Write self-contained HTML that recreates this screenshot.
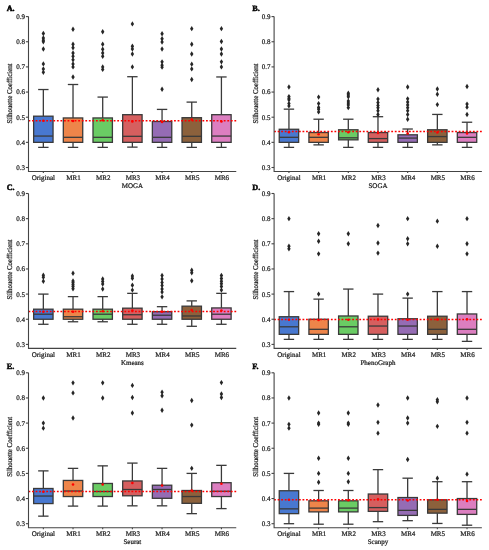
<!DOCTYPE html>
<html><head><meta charset="utf-8"><style>
html,body{margin:0;padding:0;background:#fff;}
body{width:489px;height:550px;overflow:hidden;}
svg{display:block;will-change:transform;}
text{text-rendering:geometricPrecision;font-family:"Liberation Serif", serif;fill:#1a1a1a;stroke:#1a1a1a;stroke-width:0.22px;}
.lt{font-size:8.2px;font-weight:bold;fill:#000;stroke:#000;stroke-width:0.45px;}
.yl{font-size:7px;text-anchor:middle;}
.tl{font-size:7px;text-anchor:end;}
.cl{font-size:7px;text-anchor:middle;}
.ax{stroke:#444;stroke-width:1.1;}
.bl{stroke:#3a3a3a;stroke-width:1.3;}
.ou{fill:#262626;}
.ml{stroke:#ff0000;stroke-width:1.4;stroke-dasharray:1.8 1.75;}
</style></head><body>
<svg width="489" height="550" viewBox="0 0 489 550">
<text x="6.7" y="11" class="lt">A.</text>
<text transform="translate(11.9,93.5) rotate(-90) scale(0.975,1.05)" class="yl">Silhouette Coefficient</text>
<line x1="25.9" y1="167.5" x2="28.5" y2="167.5" class="ax"/>
<text x="24.9" y="169.9" class="tl">0.3</text>
<line x1="25.9" y1="142.35" x2="28.5" y2="142.35" class="ax"/>
<text x="24.9" y="144.75" class="tl">0.4</text>
<line x1="25.9" y1="117.2" x2="28.5" y2="117.2" class="ax"/>
<text x="24.9" y="119.6" class="tl">0.5</text>
<line x1="25.9" y1="92.05" x2="28.5" y2="92.05" class="ax"/>
<text x="24.9" y="94.45" class="tl">0.6</text>
<line x1="25.9" y1="66.9" x2="28.5" y2="66.9" class="ax"/>
<text x="24.9" y="69.3" class="tl">0.7</text>
<line x1="25.9" y1="41.75" x2="28.5" y2="41.75" class="ax"/>
<text x="24.9" y="44.15" class="tl">0.8</text>
<line x1="25.9" y1="16.6" x2="28.5" y2="16.6" class="ax"/>
<text x="24.9" y="19" class="tl">0.9</text>
<line x1="43.34" y1="89.53" x2="43.34" y2="116.19" class="bl"/>
<line x1="43.34" y1="142.35" x2="43.34" y2="147.38" class="bl"/>
<line x1="38.14" y1="89.53" x2="48.54" y2="89.53" class="bl"/>
<line x1="38.14" y1="147.38" x2="48.54" y2="147.38" class="bl"/>
<rect x="33.64" y="116.19" width="19.4" height="26.16" fill="#4878d0" class="bl"/>
<line x1="33.64" y1="136.06" x2="53.04" y2="136.06" class="bl"/>
<path d="M43.34 30.75L45.04 33.45L43.34 36.15L41.64 33.45Z" class="ou"/>
<path d="M43.34 35.28L45.04 37.98L43.34 40.68L41.64 37.98Z" class="ou"/>
<path d="M43.34 37.54L45.04 40.24L43.34 42.94L41.64 40.24Z" class="ou"/>
<path d="M43.34 39.05L45.04 41.75L43.34 44.45L41.64 41.75Z" class="ou"/>
<path d="M43.34 46.34L45.04 49.04L43.34 51.74L41.64 49.04Z" class="ou"/>
<path d="M43.34 61.18L45.04 63.88L43.34 66.58L41.64 63.88Z" class="ou"/>
<path d="M43.34 66.21L45.04 68.91L43.34 71.61L41.64 68.91Z" class="ou"/>
<path d="M43.34 69.48L45.04 72.18L43.34 74.88L41.64 72.18Z" class="ou"/>
<line x1="43.34" y1="171.5" x2="43.34" y2="173.1" class="ax"/>
<text x="43.34" y="179.8" class="cl">Original</text>
<line x1="73.02" y1="84.5" x2="73.02" y2="117.95" class="bl"/>
<line x1="73.02" y1="142.35" x2="73.02" y2="147.38" class="bl"/>
<line x1="67.82" y1="84.5" x2="78.22" y2="84.5" class="bl"/>
<line x1="67.82" y1="147.38" x2="78.22" y2="147.38" class="bl"/>
<rect x="63.32" y="117.95" width="19.4" height="24.4" fill="#ee854a" class="bl"/>
<line x1="63.32" y1="137.32" x2="82.72" y2="137.32" class="bl"/>
<path d="M73.02 26.48L74.72 29.18L73.02 31.88L71.32 29.18Z" class="ou"/>
<path d="M73.02 41.56L74.72 44.27L73.02 46.97L71.32 44.27Z" class="ou"/>
<path d="M73.02 45.09L74.72 47.79L73.02 50.49L71.32 47.79Z" class="ou"/>
<path d="M73.02 50.37L74.72 53.07L73.02 55.77L71.32 53.07Z" class="ou"/>
<path d="M73.02 53.64L74.72 56.34L73.02 59.04L71.32 56.34Z" class="ou"/>
<path d="M73.02 57.16L74.72 59.86L73.02 62.56L71.32 59.86Z" class="ou"/>
<path d="M73.02 61.18L74.72 63.88L73.02 66.58L71.32 63.88Z" class="ou"/>
<path d="M73.02 64.2L74.72 66.9L73.02 69.6L71.32 66.9Z" class="ou"/>
<path d="M73.02 74.26L74.72 76.96L73.02 79.66L71.32 76.96Z" class="ou"/>
<line x1="73.02" y1="171.5" x2="73.02" y2="173.1" class="ax"/>
<text x="73.52" y="179.8" class="cl">MR1</text>
<line x1="102.7" y1="97.08" x2="102.7" y2="117.95" class="bl"/>
<line x1="102.7" y1="142.35" x2="102.7" y2="147.38" class="bl"/>
<line x1="97.5" y1="97.08" x2="107.9" y2="97.08" class="bl"/>
<line x1="97.5" y1="147.38" x2="107.9" y2="147.38" class="bl"/>
<rect x="93" y="117.95" width="19.4" height="24.4" fill="#6acc64" class="bl"/>
<line x1="93" y1="137.32" x2="112.4" y2="137.32" class="bl"/>
<path d="M102.7 28.99L104.4 31.69L102.7 34.39L101 31.69Z" class="ou"/>
<path d="M102.7 41.56L104.4 44.27L102.7 46.97L101 44.27Z" class="ou"/>
<path d="M102.7 46.59L104.4 49.3L102.7 52L101 49.3Z" class="ou"/>
<path d="M102.7 50.37L104.4 53.07L102.7 55.77L101 53.07Z" class="ou"/>
<path d="M102.7 53.64L104.4 56.34L102.7 59.04L101 56.34Z" class="ou"/>
<path d="M102.7 64.2L104.4 66.9L102.7 69.6L101 66.9Z" class="ou"/>
<path d="M102.7 66.72L104.4 69.42L102.7 72.12L101 69.42Z" class="ou"/>
<line x1="102.7" y1="171.5" x2="102.7" y2="173.1" class="ax"/>
<text x="103.2" y="179.8" class="cl">MR2</text>
<line x1="132.38" y1="76.71" x2="132.38" y2="114.69" class="bl"/>
<line x1="132.38" y1="142.35" x2="132.38" y2="147.13" class="bl"/>
<line x1="127.18" y1="76.71" x2="137.58" y2="76.71" class="bl"/>
<line x1="127.18" y1="147.13" x2="137.58" y2="147.13" class="bl"/>
<rect x="122.68" y="114.69" width="19.4" height="27.66" fill="#d65f5f" class="bl"/>
<line x1="122.68" y1="136.31" x2="142.08" y2="136.31" class="bl"/>
<path d="M132.38 21.19L134.08 23.89L132.38 26.59L130.68 23.89Z" class="ou"/>
<path d="M132.38 43.58L134.08 46.28L132.38 48.98L130.68 46.28Z" class="ou"/>
<path d="M132.38 46.34L134.08 49.04L132.38 51.74L130.68 49.04Z" class="ou"/>
<path d="M132.38 51.37L134.08 54.07L132.38 56.77L130.68 54.07Z" class="ou"/>
<path d="M132.38 64.2L134.08 66.9L132.38 69.6L130.68 66.9Z" class="ou"/>
<line x1="132.38" y1="171.5" x2="132.38" y2="173.1" class="ax"/>
<text x="132.88" y="179.8" class="cl">MR3</text>
<line x1="162.06" y1="109.4" x2="162.06" y2="121.48" class="bl"/>
<line x1="162.06" y1="142.35" x2="162.06" y2="147.38" class="bl"/>
<line x1="156.86" y1="109.4" x2="167.26" y2="109.4" class="bl"/>
<line x1="156.86" y1="147.38" x2="167.26" y2="147.38" class="bl"/>
<rect x="152.36" y="121.48" width="19.4" height="20.87" fill="#956cb4" class="bl"/>
<line x1="152.36" y1="137.32" x2="171.76" y2="137.32" class="bl"/>
<path d="M162.06 31L163.76 33.7L162.06 36.4L160.36 33.7Z" class="ou"/>
<path d="M162.06 36.03L163.76 38.73L162.06 41.43L160.36 38.73Z" class="ou"/>
<path d="M162.06 39.3L163.76 42L162.06 44.7L160.36 42Z" class="ou"/>
<path d="M162.06 46.34L163.76 49.04L162.06 51.74L160.36 49.04Z" class="ou"/>
<path d="M162.06 59.17L163.76 61.87L162.06 64.57L160.36 61.87Z" class="ou"/>
<path d="M162.06 62.44L163.76 65.14L162.06 67.84L160.36 65.14Z" class="ou"/>
<path d="M162.06 64.45L163.76 67.15L162.06 69.85L160.36 67.15Z" class="ou"/>
<path d="M162.06 86.58L163.76 89.28L162.06 91.98L160.36 89.28Z" class="ou"/>
<line x1="162.06" y1="171.5" x2="162.06" y2="173.1" class="ax"/>
<text x="162.56" y="179.8" class="cl">MR4</text>
<line x1="191.74" y1="102.11" x2="191.74" y2="117.7" class="bl"/>
<line x1="191.74" y1="142.35" x2="191.74" y2="147.38" class="bl"/>
<line x1="186.54" y1="102.11" x2="196.94" y2="102.11" class="bl"/>
<line x1="186.54" y1="147.38" x2="196.94" y2="147.38" class="bl"/>
<rect x="182.04" y="117.7" width="19.4" height="24.65" fill="#8c613c" class="bl"/>
<line x1="182.04" y1="136.31" x2="201.44" y2="136.31" class="bl"/>
<path d="M191.74 25.97L193.44 28.67L191.74 31.37L190.04 28.67Z" class="ou"/>
<path d="M191.74 41.56L193.44 44.27L191.74 46.97L190.04 44.27Z" class="ou"/>
<path d="M191.74 51.37L193.44 54.07L191.74 56.77L190.04 54.07Z" class="ou"/>
<path d="M191.74 61.43L193.44 64.13L191.74 66.83L190.04 64.13Z" class="ou"/>
<path d="M191.74 66.21L193.44 68.91L191.74 71.61L190.04 68.91Z" class="ou"/>
<path d="M191.74 76.77L193.44 79.47L191.74 82.17L190.04 79.47Z" class="ou"/>
<line x1="191.74" y1="171.5" x2="191.74" y2="173.1" class="ax"/>
<text x="192.24" y="179.8" class="cl">MR5</text>
<line x1="221.42" y1="76.96" x2="221.42" y2="114.69" class="bl"/>
<line x1="221.42" y1="142.35" x2="221.42" y2="147.38" class="bl"/>
<line x1="216.22" y1="76.96" x2="226.62" y2="76.96" class="bl"/>
<line x1="216.22" y1="147.38" x2="226.62" y2="147.38" class="bl"/>
<rect x="211.72" y="114.69" width="19.4" height="27.66" fill="#dc7ec0" class="bl"/>
<line x1="211.72" y1="136.06" x2="231.12" y2="136.06" class="bl"/>
<path d="M221.42 25.97L223.12 28.67L221.42 31.37L219.72 28.67Z" class="ou"/>
<path d="M221.42 38.8L223.12 41.5L221.42 44.2L219.72 41.5Z" class="ou"/>
<path d="M221.42 46.34L223.12 49.04L221.42 51.74L219.72 49.04Z" class="ou"/>
<path d="M221.42 51.37L223.12 54.07L221.42 56.77L219.72 54.07Z" class="ou"/>
<path d="M221.42 59.17L223.12 61.87L221.42 64.57L219.72 61.87Z" class="ou"/>
<path d="M221.42 64.2L223.12 66.9L221.42 69.6L219.72 66.9Z" class="ou"/>
<line x1="221.42" y1="171.5" x2="221.42" y2="173.1" class="ax"/>
<text x="221.92" y="179.8" class="cl">MR6</text>
<line x1="28.5" y1="120.72" x2="236.26" y2="120.72" class="ml"/>
<circle cx="43.34" cy="120.72" r="1.3" fill="#ff0000"/>
<circle cx="73.02" cy="120.97" r="1.3" fill="#ff0000"/>
<circle cx="102.7" cy="120.22" r="1.3" fill="#ff0000"/>
<circle cx="132.38" cy="121.48" r="1.3" fill="#ff0000"/>
<circle cx="162.06" cy="121.98" r="1.3" fill="#ff0000"/>
<circle cx="191.74" cy="119.46" r="1.3" fill="#ff0000"/>
<circle cx="221.42" cy="121.48" r="1.3" fill="#ff0000"/>
<path d="M28.5 16.6V171.5H236.26" class="ax" fill="none"/>
<text x="132.38" y="187.9" class="cl">MOGA</text>
<text x="252.3" y="11" class="lt">B.</text>
<text transform="translate(257.5,93.5) rotate(-90) scale(0.975,1.05)" class="yl">Silhouette Coefficient</text>
<line x1="271.5" y1="167.5" x2="274.1" y2="167.5" class="ax"/>
<text x="270.5" y="169.9" class="tl">0.3</text>
<line x1="271.5" y1="142.35" x2="274.1" y2="142.35" class="ax"/>
<text x="270.5" y="144.75" class="tl">0.4</text>
<line x1="271.5" y1="117.2" x2="274.1" y2="117.2" class="ax"/>
<text x="270.5" y="119.6" class="tl">0.5</text>
<line x1="271.5" y1="92.05" x2="274.1" y2="92.05" class="ax"/>
<text x="270.5" y="94.45" class="tl">0.6</text>
<line x1="271.5" y1="66.9" x2="274.1" y2="66.9" class="ax"/>
<text x="270.5" y="69.3" class="tl">0.7</text>
<line x1="271.5" y1="41.75" x2="274.1" y2="41.75" class="ax"/>
<text x="270.5" y="44.15" class="tl">0.8</text>
<line x1="271.5" y1="16.6" x2="274.1" y2="16.6" class="ax"/>
<text x="270.5" y="19" class="tl">0.9</text>
<line x1="288.94" y1="109.15" x2="288.94" y2="129.27" class="bl"/>
<line x1="288.94" y1="142.35" x2="288.94" y2="147.38" class="bl"/>
<line x1="283.74" y1="109.15" x2="294.14" y2="109.15" class="bl"/>
<line x1="283.74" y1="147.38" x2="294.14" y2="147.38" class="bl"/>
<rect x="279.24" y="129.27" width="19.4" height="13.08" fill="#4878d0" class="bl"/>
<line x1="279.24" y1="137.32" x2="298.64" y2="137.32" class="bl"/>
<path d="M288.94 84.32L290.64 87.02L288.94 89.72L287.24 87.02Z" class="ou"/>
<path d="M288.94 93.88L290.64 96.58L288.94 99.28L287.24 96.58Z" class="ou"/>
<path d="M288.94 95.64L290.64 98.34L288.94 101.04L287.24 98.34Z" class="ou"/>
<path d="M288.94 97.15L290.64 99.85L288.94 102.55L287.24 99.85Z" class="ou"/>
<path d="M288.94 100.92L290.64 103.62L288.94 106.32L287.24 103.62Z" class="ou"/>
<path d="M288.94 103.18L290.64 105.88L288.94 108.58L287.24 105.88Z" class="ou"/>
<line x1="288.94" y1="171.5" x2="288.94" y2="173.1" class="ax"/>
<text x="288.94" y="179.8" class="cl">Original</text>
<line x1="318.62" y1="119.21" x2="318.62" y2="132.54" class="bl"/>
<line x1="318.62" y1="142.35" x2="318.62" y2="144.87" class="bl"/>
<line x1="313.42" y1="119.21" x2="323.82" y2="119.21" class="bl"/>
<line x1="313.42" y1="144.87" x2="323.82" y2="144.87" class="bl"/>
<rect x="308.92" y="132.54" width="19.4" height="9.81" fill="#ee854a" class="bl"/>
<line x1="308.92" y1="137.32" x2="328.32" y2="137.32" class="bl"/>
<path d="M318.62 94.38L320.32 97.08L318.62 99.78L316.92 97.08Z" class="ou"/>
<path d="M318.62 100.92L320.32 103.62L318.62 106.32L316.92 103.62Z" class="ou"/>
<path d="M318.62 104.69L320.32 107.39L318.62 110.09L316.92 107.39Z" class="ou"/>
<path d="M318.62 106.45L320.32 109.15L318.62 111.85L316.92 109.15Z" class="ou"/>
<path d="M318.62 109.22L320.32 111.92L318.62 114.62L316.92 111.92Z" class="ou"/>
<line x1="318.62" y1="171.5" x2="318.62" y2="173.1" class="ax"/>
<text x="319.12" y="179.8" class="cl">MR1</text>
<line x1="348.3" y1="119.21" x2="348.3" y2="129.78" class="bl"/>
<line x1="348.3" y1="139.84" x2="348.3" y2="147.38" class="bl"/>
<line x1="343.1" y1="119.21" x2="353.5" y2="119.21" class="bl"/>
<line x1="343.1" y1="147.38" x2="353.5" y2="147.38" class="bl"/>
<rect x="338.6" y="129.78" width="19.4" height="10.06" fill="#6acc64" class="bl"/>
<line x1="338.6" y1="137.82" x2="358" y2="137.82" class="bl"/>
<path d="M348.3 90.61L350 93.31L348.3 96.01L346.6 93.31Z" class="ou"/>
<path d="M348.3 92.37L350 95.07L348.3 97.77L346.6 95.07Z" class="ou"/>
<path d="M348.3 94.13L350 96.83L348.3 99.53L346.6 96.83Z" class="ou"/>
<path d="M348.3 98.4L350 101.1L348.3 103.8L346.6 101.1Z" class="ou"/>
<path d="M348.3 100.42L350 103.12L348.3 105.82L346.6 103.12Z" class="ou"/>
<path d="M348.3 102.18L350 104.88L348.3 107.58L346.6 104.88Z" class="ou"/>
<path d="M348.3 104.94L350 107.64L348.3 110.34L346.6 107.64Z" class="ou"/>
<line x1="348.3" y1="171.5" x2="348.3" y2="173.1" class="ax"/>
<text x="348.8" y="179.8" class="cl">MR2</text>
<line x1="377.98" y1="116.7" x2="377.98" y2="132.54" class="bl"/>
<line x1="377.98" y1="142.35" x2="377.98" y2="147.38" class="bl"/>
<line x1="372.78" y1="116.7" x2="383.18" y2="116.7" class="bl"/>
<line x1="372.78" y1="147.38" x2="383.18" y2="147.38" class="bl"/>
<rect x="368.28" y="132.54" width="19.4" height="9.81" fill="#d65f5f" class="bl"/>
<line x1="368.28" y1="138.58" x2="387.68" y2="138.58" class="bl"/>
<path d="M377.98 87.09L379.68 89.79L377.98 92.49L376.28 89.79Z" class="ou"/>
<path d="M377.98 96.39L379.68 99.09L377.98 101.79L376.28 99.09Z" class="ou"/>
<path d="M377.98 99.91L379.68 102.61L377.98 105.31L376.28 102.61Z" class="ou"/>
<path d="M377.98 102.68L379.68 105.38L377.98 108.08L376.28 105.38Z" class="ou"/>
<path d="M377.98 104.94L379.68 107.64L377.98 110.34L376.28 107.64Z" class="ou"/>
<path d="M377.98 107.96L379.68 110.66L377.98 113.36L376.28 110.66Z" class="ou"/>
<path d="M377.98 111.73L379.68 114.43L377.98 117.13L376.28 114.43Z" class="ou"/>
<line x1="377.98" y1="171.5" x2="377.98" y2="173.1" class="ax"/>
<text x="378.48" y="179.8" class="cl">MR3</text>
<line x1="407.66" y1="129.02" x2="407.66" y2="134.81" class="bl"/>
<line x1="407.66" y1="142.35" x2="407.66" y2="147.38" class="bl"/>
<line x1="402.46" y1="129.02" x2="412.86" y2="129.02" class="bl"/>
<line x1="402.46" y1="147.38" x2="412.86" y2="147.38" class="bl"/>
<rect x="397.96" y="134.81" width="19.4" height="7.54" fill="#956cb4" class="bl"/>
<line x1="397.96" y1="138.07" x2="417.36" y2="138.07" class="bl"/>
<path d="M407.66 84.32L409.36 87.02L407.66 89.72L405.96 87.02Z" class="ou"/>
<path d="M407.66 96.14L409.36 98.84L407.66 101.54L405.96 98.84Z" class="ou"/>
<path d="M407.66 99.41L409.36 102.11L407.66 104.81L405.96 102.11Z" class="ou"/>
<path d="M407.66 102.18L409.36 104.88L407.66 107.58L405.96 104.88Z" class="ou"/>
<path d="M407.66 104.94L409.36 107.64L407.66 110.34L405.96 107.64Z" class="ou"/>
<path d="M407.66 107.96L409.36 110.66L407.66 113.36L405.96 110.66Z" class="ou"/>
<path d="M407.66 111.73L409.36 114.43L407.66 117.13L405.96 114.43Z" class="ou"/>
<path d="M407.66 116.51L409.36 119.21L407.66 121.91L405.96 119.21Z" class="ou"/>
<line x1="407.66" y1="171.5" x2="407.66" y2="173.1" class="ax"/>
<text x="408.16" y="179.8" class="cl">MR4</text>
<line x1="437.34" y1="114.43" x2="437.34" y2="129.78" class="bl"/>
<line x1="437.34" y1="142.35" x2="437.34" y2="144.87" class="bl"/>
<line x1="432.14" y1="114.43" x2="442.54" y2="114.43" class="bl"/>
<line x1="432.14" y1="144.87" x2="442.54" y2="144.87" class="bl"/>
<rect x="427.64" y="129.78" width="19.4" height="12.57" fill="#8c613c" class="bl"/>
<line x1="427.64" y1="136.57" x2="447.04" y2="136.57" class="bl"/>
<path d="M437.34 86.33L439.04 89.03L437.34 91.73L435.64 89.03Z" class="ou"/>
<path d="M437.34 91.61L439.04 94.31L437.34 97.01L435.64 94.31Z" class="ou"/>
<path d="M437.34 101.92L439.04 104.62L437.34 107.33L435.64 104.62Z" class="ou"/>
<line x1="437.34" y1="171.5" x2="437.34" y2="173.1" class="ax"/>
<text x="437.84" y="179.8" class="cl">MR5</text>
<line x1="467.02" y1="122.23" x2="467.02" y2="132.54" class="bl"/>
<line x1="467.02" y1="142.35" x2="467.02" y2="147.38" class="bl"/>
<line x1="461.82" y1="122.23" x2="472.22" y2="122.23" class="bl"/>
<line x1="461.82" y1="147.38" x2="472.22" y2="147.38" class="bl"/>
<rect x="457.32" y="132.54" width="19.4" height="9.81" fill="#dc7ec0" class="bl"/>
<line x1="457.32" y1="137.32" x2="476.72" y2="137.32" class="bl"/>
<path d="M467.02 83.82L468.72 86.52L467.02 89.22L465.32 86.52Z" class="ou"/>
<path d="M467.02 101.42L468.72 104.12L467.02 106.82L465.32 104.12Z" class="ou"/>
<path d="M467.02 104.44L468.72 107.14L467.02 109.84L465.32 107.14Z" class="ou"/>
<path d="M467.02 111.73L468.72 114.43L467.02 117.13L465.32 114.43Z" class="ou"/>
<line x1="467.02" y1="171.5" x2="467.02" y2="173.1" class="ax"/>
<text x="467.52" y="179.8" class="cl">MR6</text>
<line x1="274.1" y1="131.54" x2="481.86" y2="131.54" class="ml"/>
<circle cx="288.94" cy="132.29" r="1.3" fill="#ff0000"/>
<circle cx="318.62" cy="134.3" r="1.3" fill="#ff0000"/>
<circle cx="348.3" cy="132.29" r="1.3" fill="#ff0000"/>
<circle cx="377.98" cy="133.04" r="1.3" fill="#ff0000"/>
<circle cx="407.66" cy="133.55" r="1.3" fill="#ff0000"/>
<circle cx="437.34" cy="132.54" r="1.3" fill="#ff0000"/>
<circle cx="467.02" cy="133.55" r="1.3" fill="#ff0000"/>
<path d="M274.1 16.6V171.5H481.86" class="ax" fill="none"/>
<text x="377.98" y="187.9" class="cl">SOGA</text>
<text x="6.7" y="190.3" class="lt">C.</text>
<text transform="translate(11.9,269.5) rotate(-90) scale(0.975,1.05)" class="yl">Silhouette Coefficient</text>
<line x1="25.9" y1="344.4" x2="28.5" y2="344.4" class="ax"/>
<text x="24.9" y="346.8" class="tl">0.3</text>
<line x1="25.9" y1="319.25" x2="28.5" y2="319.25" class="ax"/>
<text x="24.9" y="321.65" class="tl">0.4</text>
<line x1="25.9" y1="294.1" x2="28.5" y2="294.1" class="ax"/>
<text x="24.9" y="296.5" class="tl">0.5</text>
<line x1="25.9" y1="268.95" x2="28.5" y2="268.95" class="ax"/>
<text x="24.9" y="271.35" class="tl">0.6</text>
<line x1="25.9" y1="243.8" x2="28.5" y2="243.8" class="ax"/>
<text x="24.9" y="246.2" class="tl">0.7</text>
<line x1="25.9" y1="218.65" x2="28.5" y2="218.65" class="ax"/>
<text x="24.9" y="221.05" class="tl">0.8</text>
<line x1="25.9" y1="193.5" x2="28.5" y2="193.5" class="ax"/>
<text x="24.9" y="195.9" class="tl">0.9</text>
<line x1="43.34" y1="294.1" x2="43.34" y2="309.19" class="bl"/>
<line x1="43.34" y1="319.25" x2="43.34" y2="324.28" class="bl"/>
<line x1="38.14" y1="294.1" x2="48.54" y2="294.1" class="bl"/>
<line x1="38.14" y1="324.28" x2="48.54" y2="324.28" class="bl"/>
<rect x="33.64" y="309.19" width="19.4" height="10.06" fill="#4878d0" class="bl"/>
<line x1="33.64" y1="314.22" x2="53.04" y2="314.22" class="bl"/>
<path d="M43.34 272.54L45.04 275.24L43.34 277.94L41.64 275.24Z" class="ou"/>
<path d="M43.34 274.55L45.04 277.25L43.34 279.95L41.64 277.25Z" class="ou"/>
<path d="M43.34 278.57L45.04 281.27L43.34 283.97L41.64 281.27Z" class="ou"/>
<line x1="43.34" y1="348.4" x2="43.34" y2="350" class="ax"/>
<text x="43.34" y="356.7" class="cl">Original</text>
<line x1="73.02" y1="296.62" x2="73.02" y2="309.19" class="bl"/>
<line x1="73.02" y1="319.25" x2="73.02" y2="321.76" class="bl"/>
<line x1="67.82" y1="296.62" x2="78.22" y2="296.62" class="bl"/>
<line x1="67.82" y1="321.76" x2="78.22" y2="321.76" class="bl"/>
<rect x="63.32" y="309.19" width="19.4" height="10.06" fill="#ee854a" class="bl"/>
<line x1="63.32" y1="316.74" x2="82.72" y2="316.74" class="bl"/>
<path d="M73.02 270.53L74.72 273.23L73.02 275.93L71.32 273.23Z" class="ou"/>
<path d="M73.02 278.32L74.72 281.02L73.02 283.72L71.32 281.02Z" class="ou"/>
<path d="M73.02 280.08L74.72 282.78L73.02 285.48L71.32 282.78Z" class="ou"/>
<path d="M73.02 282.09L74.72 284.79L73.02 287.49L71.32 284.79Z" class="ou"/>
<path d="M73.02 283.86L74.72 286.56L73.02 289.25L71.32 286.56Z" class="ou"/>
<path d="M73.02 286.12L74.72 288.82L73.02 291.52L71.32 288.82Z" class="ou"/>
<line x1="73.02" y1="348.4" x2="73.02" y2="350" class="ax"/>
<text x="73.52" y="356.7" class="cl">MR1</text>
<line x1="102.7" y1="296.62" x2="102.7" y2="309.19" class="bl"/>
<line x1="102.7" y1="319.25" x2="102.7" y2="321.76" class="bl"/>
<line x1="97.5" y1="296.62" x2="107.9" y2="296.62" class="bl"/>
<line x1="97.5" y1="321.76" x2="107.9" y2="321.76" class="bl"/>
<rect x="93" y="309.19" width="19.4" height="10.06" fill="#6acc64" class="bl"/>
<line x1="93" y1="314.22" x2="112.4" y2="314.22" class="bl"/>
<path d="M102.7 276.31L104.4 279.01L102.7 281.71L101 279.01Z" class="ou"/>
<path d="M102.7 278.82L104.4 281.52L102.7 284.22L101 281.52Z" class="ou"/>
<path d="M102.7 281.34L104.4 284.04L102.7 286.74L101 284.04Z" class="ou"/>
<path d="M102.7 286.37L104.4 289.07L102.7 291.77L101 289.07Z" class="ou"/>
<line x1="102.7" y1="348.4" x2="102.7" y2="350" class="ax"/>
<text x="103.2" y="356.7" class="cl">MR2</text>
<line x1="132.38" y1="293.35" x2="132.38" y2="308.18" class="bl"/>
<line x1="132.38" y1="319.25" x2="132.38" y2="324.28" class="bl"/>
<line x1="127.18" y1="293.35" x2="137.58" y2="293.35" class="bl"/>
<line x1="127.18" y1="324.28" x2="137.58" y2="324.28" class="bl"/>
<rect x="122.68" y="308.18" width="19.4" height="11.07" fill="#d65f5f" class="bl"/>
<line x1="122.68" y1="314.72" x2="142.08" y2="314.72" class="bl"/>
<path d="M132.38 273.29L134.08 275.99L132.38 278.69L130.68 275.99Z" class="ou"/>
<path d="M132.38 275.56L134.08 278.26L132.38 280.96L130.68 278.26Z" class="ou"/>
<path d="M132.38 282.6L134.08 285.3L132.38 288L130.68 285.3Z" class="ou"/>
<path d="M132.38 287.38L134.08 290.08L132.38 292.78L130.68 290.08Z" class="ou"/>
<line x1="132.38" y1="348.4" x2="132.38" y2="350" class="ax"/>
<text x="132.88" y="356.7" class="cl">MR3</text>
<line x1="162.06" y1="306.68" x2="162.06" y2="311.71" class="bl"/>
<line x1="162.06" y1="319.25" x2="162.06" y2="324.28" class="bl"/>
<line x1="156.86" y1="306.68" x2="167.26" y2="306.68" class="bl"/>
<line x1="156.86" y1="324.28" x2="167.26" y2="324.28" class="bl"/>
<rect x="152.36" y="311.71" width="19.4" height="7.54" fill="#956cb4" class="bl"/>
<line x1="152.36" y1="315.23" x2="171.76" y2="315.23" class="bl"/>
<path d="M162.06 272.79L163.76 275.49L162.06 278.19L160.36 275.49Z" class="ou"/>
<path d="M162.06 276.31L163.76 279.01L162.06 281.71L160.36 279.01Z" class="ou"/>
<path d="M162.06 279.83L163.76 282.53L162.06 285.23L160.36 282.53Z" class="ou"/>
<path d="M162.06 282.85L163.76 285.55L162.06 288.25L160.36 285.55Z" class="ou"/>
<path d="M162.06 286.37L163.76 289.07L162.06 291.77L160.36 289.07Z" class="ou"/>
<path d="M162.06 289.39L163.76 292.09L162.06 294.79L160.36 292.09Z" class="ou"/>
<path d="M162.06 294.17L163.76 296.87L162.06 299.57L160.36 296.87Z" class="ou"/>
<line x1="162.06" y1="348.4" x2="162.06" y2="350" class="ax"/>
<text x="162.56" y="356.7" class="cl">MR4</text>
<line x1="191.74" y1="300.89" x2="191.74" y2="306.17" class="bl"/>
<line x1="191.74" y1="319.25" x2="191.74" y2="326.29" class="bl"/>
<line x1="186.54" y1="300.89" x2="196.94" y2="300.89" class="bl"/>
<line x1="186.54" y1="326.29" x2="196.94" y2="326.29" class="bl"/>
<rect x="182.04" y="306.17" width="19.4" height="13.08" fill="#8c613c" class="bl"/>
<line x1="182.04" y1="315.98" x2="201.44" y2="315.98" class="bl"/>
<path d="M191.74 267.51L193.44 270.21L191.74 272.91L190.04 270.21Z" class="ou"/>
<path d="M191.74 270.02L193.44 272.72L191.74 275.42L190.04 272.72Z" class="ou"/>
<path d="M191.74 278.07L193.44 280.77L191.74 283.47L190.04 280.77Z" class="ou"/>
<line x1="191.74" y1="348.4" x2="191.74" y2="350" class="ax"/>
<text x="192.24" y="356.7" class="cl">MR5</text>
<line x1="221.42" y1="293.35" x2="221.42" y2="307.93" class="bl"/>
<line x1="221.42" y1="319.25" x2="221.42" y2="324.28" class="bl"/>
<line x1="216.22" y1="293.35" x2="226.62" y2="293.35" class="bl"/>
<line x1="216.22" y1="324.28" x2="226.62" y2="324.28" class="bl"/>
<rect x="211.72" y="307.93" width="19.4" height="11.32" fill="#dc7ec0" class="bl"/>
<line x1="211.72" y1="314.22" x2="231.12" y2="314.22" class="bl"/>
<path d="M221.42 272.79L223.12 275.49L221.42 278.19L219.72 275.49Z" class="ou"/>
<path d="M221.42 275.81L223.12 278.51L221.42 281.21L219.72 278.51Z" class="ou"/>
<path d="M221.42 278.57L223.12 281.27L221.42 283.97L219.72 281.27Z" class="ou"/>
<path d="M221.42 281.09L223.12 283.79L221.42 286.49L219.72 283.79Z" class="ou"/>
<path d="M221.42 283.86L223.12 286.56L221.42 289.25L219.72 286.56Z" class="ou"/>
<path d="M221.42 287.38L223.12 290.08L221.42 292.78L219.72 290.08Z" class="ou"/>
<line x1="221.42" y1="348.4" x2="221.42" y2="350" class="ax"/>
<text x="221.92" y="356.7" class="cl">MR6</text>
<line x1="28.5" y1="311.45" x2="236.26" y2="311.45" class="ml"/>
<circle cx="43.34" cy="311.71" r="1.3" fill="#ff0000"/>
<circle cx="73.02" cy="311.71" r="1.3" fill="#ff0000"/>
<circle cx="102.7" cy="311.2" r="1.3" fill="#ff0000"/>
<circle cx="132.38" cy="310.45" r="1.3" fill="#ff0000"/>
<circle cx="162.06" cy="311.71" r="1.3" fill="#ff0000"/>
<circle cx="191.74" cy="309.94" r="1.3" fill="#ff0000"/>
<circle cx="221.42" cy="310.45" r="1.3" fill="#ff0000"/>
<path d="M28.5 193.5V348.4H236.26" class="ax" fill="none"/>
<text x="132.38" y="364.8" class="cl">Kmeans</text>
<text x="252.3" y="190.3" class="lt">D.</text>
<text transform="translate(257.5,269.5) rotate(-90) scale(0.975,1.05)" class="yl">Silhouette Coefficient</text>
<line x1="271.5" y1="344.4" x2="274.1" y2="344.4" class="ax"/>
<text x="270.5" y="346.8" class="tl">0.3</text>
<line x1="271.5" y1="319.25" x2="274.1" y2="319.25" class="ax"/>
<text x="270.5" y="321.65" class="tl">0.4</text>
<line x1="271.5" y1="294.1" x2="274.1" y2="294.1" class="ax"/>
<text x="270.5" y="296.5" class="tl">0.5</text>
<line x1="271.5" y1="268.95" x2="274.1" y2="268.95" class="ax"/>
<text x="270.5" y="271.35" class="tl">0.6</text>
<line x1="271.5" y1="243.8" x2="274.1" y2="243.8" class="ax"/>
<text x="270.5" y="246.2" class="tl">0.7</text>
<line x1="271.5" y1="218.65" x2="274.1" y2="218.65" class="ax"/>
<text x="270.5" y="221.05" class="tl">0.8</text>
<line x1="271.5" y1="193.5" x2="274.1" y2="193.5" class="ax"/>
<text x="270.5" y="195.9" class="tl">0.9</text>
<line x1="288.94" y1="291.59" x2="288.94" y2="316.74" class="bl"/>
<line x1="288.94" y1="334.34" x2="288.94" y2="339.37" class="bl"/>
<line x1="283.74" y1="291.59" x2="294.14" y2="291.59" class="bl"/>
<line x1="283.74" y1="339.37" x2="294.14" y2="339.37" class="bl"/>
<rect x="279.24" y="316.74" width="19.4" height="17.61" fill="#4878d0" class="bl"/>
<line x1="279.24" y1="326.8" x2="298.64" y2="326.8" class="bl"/>
<path d="M288.94 215.95L290.64 218.65L288.94 221.35L287.24 218.65Z" class="ou"/>
<path d="M288.94 243.62L290.64 246.32L288.94 249.02L287.24 246.32Z" class="ou"/>
<path d="M288.94 246.13L290.64 248.83L288.94 251.53L287.24 248.83Z" class="ou"/>
<line x1="288.94" y1="348.4" x2="288.94" y2="350" class="ax"/>
<text x="288.94" y="356.7" class="cl">Original</text>
<line x1="318.62" y1="299.13" x2="318.62" y2="319.25" class="bl"/>
<line x1="318.62" y1="334.34" x2="318.62" y2="339.37" class="bl"/>
<line x1="313.42" y1="299.13" x2="323.82" y2="299.13" class="bl"/>
<line x1="313.42" y1="339.37" x2="323.82" y2="339.37" class="bl"/>
<rect x="308.92" y="319.25" width="19.4" height="15.09" fill="#ee854a" class="bl"/>
<line x1="308.92" y1="329.31" x2="328.32" y2="329.31" class="bl"/>
<path d="M318.62 231.04L320.32 233.74L318.62 236.44L316.92 233.74Z" class="ou"/>
<path d="M318.62 238.59L320.32 241.29L318.62 243.99L316.92 241.29Z" class="ou"/>
<path d="M318.62 251.16L320.32 253.86L318.62 256.56L316.92 253.86Z" class="ou"/>
<path d="M318.62 291.4L320.32 294.1L318.62 296.8L316.92 294.1Z" class="ou"/>
<line x1="318.62" y1="348.4" x2="318.62" y2="350" class="ax"/>
<text x="319.12" y="356.7" class="cl">MR1</text>
<line x1="348.3" y1="289.07" x2="348.3" y2="315.98" class="bl"/>
<line x1="348.3" y1="334.34" x2="348.3" y2="339.37" class="bl"/>
<line x1="343.1" y1="289.07" x2="353.5" y2="289.07" class="bl"/>
<line x1="343.1" y1="339.37" x2="353.5" y2="339.37" class="bl"/>
<rect x="338.6" y="315.98" width="19.4" height="18.36" fill="#6acc64" class="bl"/>
<line x1="338.6" y1="326.8" x2="358" y2="326.8" class="bl"/>
<path d="M348.3 231.04L350 233.74L348.3 236.44L346.6 233.74Z" class="ou"/>
<path d="M348.3 241.1L350 243.8L348.3 246.5L346.6 243.8Z" class="ou"/>
<line x1="348.3" y1="348.4" x2="348.3" y2="350" class="ax"/>
<text x="348.8" y="356.7" class="cl">MR2</text>
<line x1="377.98" y1="294.1" x2="377.98" y2="316.23" class="bl"/>
<line x1="377.98" y1="334.34" x2="377.98" y2="339.37" class="bl"/>
<line x1="372.78" y1="294.1" x2="383.18" y2="294.1" class="bl"/>
<line x1="372.78" y1="339.37" x2="383.18" y2="339.37" class="bl"/>
<rect x="368.28" y="316.23" width="19.4" height="18.11" fill="#d65f5f" class="bl"/>
<line x1="368.28" y1="326.04" x2="387.68" y2="326.04" class="bl"/>
<path d="M377.98 222.74L379.68 225.44L377.98 228.14L376.28 225.44Z" class="ou"/>
<path d="M377.98 240.35L379.68 243.05L377.98 245.75L376.28 243.05Z" class="ou"/>
<path d="M377.98 250.41L379.68 253.11L377.98 255.81L376.28 253.11Z" class="ou"/>
<line x1="377.98" y1="348.4" x2="377.98" y2="350" class="ax"/>
<text x="378.48" y="356.7" class="cl">MR3</text>
<line x1="407.66" y1="298.12" x2="407.66" y2="318.75" class="bl"/>
<line x1="407.66" y1="334.34" x2="407.66" y2="339.37" class="bl"/>
<line x1="402.46" y1="298.12" x2="412.86" y2="298.12" class="bl"/>
<line x1="402.46" y1="339.37" x2="412.86" y2="339.37" class="bl"/>
<rect x="397.96" y="318.75" width="19.4" height="15.59" fill="#956cb4" class="bl"/>
<line x1="397.96" y1="326.04" x2="417.36" y2="326.04" class="bl"/>
<path d="M407.66 215.95L409.36 218.65L407.66 221.35L405.96 218.65Z" class="ou"/>
<path d="M407.66 236.07L409.36 238.77L407.66 241.47L405.96 238.77Z" class="ou"/>
<path d="M407.66 241.1L409.36 243.8L407.66 246.5L405.96 243.8Z" class="ou"/>
<path d="M407.66 291.4L409.36 294.1L407.66 296.8L405.96 294.1Z" class="ou"/>
<line x1="407.66" y1="348.4" x2="407.66" y2="350" class="ax"/>
<text x="408.16" y="356.7" class="cl">MR4</text>
<line x1="437.34" y1="291.59" x2="437.34" y2="316.23" class="bl"/>
<line x1="437.34" y1="334.34" x2="437.34" y2="339.37" class="bl"/>
<line x1="432.14" y1="291.59" x2="442.54" y2="291.59" class="bl"/>
<line x1="432.14" y1="339.37" x2="442.54" y2="339.37" class="bl"/>
<rect x="427.64" y="316.23" width="19.4" height="18.11" fill="#8c613c" class="bl"/>
<line x1="427.64" y1="329.31" x2="447.04" y2="329.31" class="bl"/>
<path d="M437.34 218.47L439.04 221.16L437.34 223.86L435.64 221.16Z" class="ou"/>
<path d="M437.34 243.62L439.04 246.32L437.34 249.02L435.64 246.32Z" class="ou"/>
<line x1="437.34" y1="348.4" x2="437.34" y2="350" class="ax"/>
<text x="437.84" y="356.7" class="cl">MR5</text>
<line x1="467.02" y1="291.59" x2="467.02" y2="313.97" class="bl"/>
<line x1="467.02" y1="334.34" x2="467.02" y2="341.38" class="bl"/>
<line x1="461.82" y1="291.59" x2="472.22" y2="291.59" class="bl"/>
<line x1="461.82" y1="341.38" x2="472.22" y2="341.38" class="bl"/>
<rect x="457.32" y="313.97" width="19.4" height="20.37" fill="#dc7ec0" class="bl"/>
<line x1="457.32" y1="329.31" x2="476.72" y2="329.31" class="bl"/>
<path d="M467.02 215.95L468.72 218.65L467.02 221.35L465.32 218.65Z" class="ou"/>
<path d="M467.02 241.1L468.72 243.8L467.02 246.5L465.32 243.8Z" class="ou"/>
<path d="M467.02 251.16L468.72 253.86L467.02 256.56L465.32 253.86Z" class="ou"/>
<line x1="467.02" y1="348.4" x2="467.02" y2="350" class="ax"/>
<text x="467.52" y="356.7" class="cl">MR6</text>
<line x1="274.1" y1="319.5" x2="481.86" y2="319.5" class="ml"/>
<circle cx="288.94" cy="319.75" r="1.3" fill="#ff0000"/>
<circle cx="318.62" cy="320" r="1.3" fill="#ff0000"/>
<circle cx="348.3" cy="319.75" r="1.3" fill="#ff0000"/>
<circle cx="377.98" cy="319.5" r="1.3" fill="#ff0000"/>
<circle cx="407.66" cy="319.75" r="1.3" fill="#ff0000"/>
<circle cx="437.34" cy="319.5" r="1.3" fill="#ff0000"/>
<circle cx="467.02" cy="319.25" r="1.3" fill="#ff0000"/>
<path d="M274.1 193.5V348.4H481.86" class="ax" fill="none"/>
<text x="377.98" y="364.8" class="cl">PhenoGraph</text>
<text x="6.7" y="368.8" class="lt">E.</text>
<text transform="translate(11.9,446.8) rotate(-90) scale(0.975,1.05)" class="yl">Silhouette Coefficient</text>
<line x1="25.9" y1="523.7" x2="28.5" y2="523.7" class="ax"/>
<text x="24.9" y="526.1" class="tl">0.3</text>
<line x1="25.9" y1="498.55" x2="28.5" y2="498.55" class="ax"/>
<text x="24.9" y="500.95" class="tl">0.4</text>
<line x1="25.9" y1="473.4" x2="28.5" y2="473.4" class="ax"/>
<text x="24.9" y="475.8" class="tl">0.5</text>
<line x1="25.9" y1="448.25" x2="28.5" y2="448.25" class="ax"/>
<text x="24.9" y="450.65" class="tl">0.6</text>
<line x1="25.9" y1="423.1" x2="28.5" y2="423.1" class="ax"/>
<text x="24.9" y="425.5" class="tl">0.7</text>
<line x1="25.9" y1="397.95" x2="28.5" y2="397.95" class="ax"/>
<text x="24.9" y="400.35" class="tl">0.8</text>
<line x1="25.9" y1="372.8" x2="28.5" y2="372.8" class="ax"/>
<text x="24.9" y="375.2" class="tl">0.9</text>
<line x1="43.34" y1="470.88" x2="43.34" y2="488.49" class="bl"/>
<line x1="43.34" y1="503.58" x2="43.34" y2="516.15" class="bl"/>
<line x1="38.14" y1="470.88" x2="48.54" y2="470.88" class="bl"/>
<line x1="38.14" y1="516.15" x2="48.54" y2="516.15" class="bl"/>
<rect x="33.64" y="488.49" width="19.4" height="15.09" fill="#4878d0" class="bl"/>
<line x1="33.64" y1="496.04" x2="53.04" y2="496.04" class="bl"/>
<path d="M43.34 395.25L45.04 397.95L43.34 400.65L41.64 397.95Z" class="ou"/>
<path d="M43.34 420.4L45.04 423.1L43.34 425.8L41.64 423.1Z" class="ou"/>
<path d="M43.34 425.43L45.04 428.13L43.34 430.83L41.64 428.13Z" class="ou"/>
<line x1="43.34" y1="527.7" x2="43.34" y2="529.3" class="ax"/>
<text x="43.34" y="536" class="cl">Original</text>
<line x1="73.02" y1="468.37" x2="73.02" y2="480.44" class="bl"/>
<line x1="73.02" y1="496.54" x2="73.02" y2="506.1" class="bl"/>
<line x1="67.82" y1="468.37" x2="78.22" y2="468.37" class="bl"/>
<line x1="67.82" y1="506.1" x2="78.22" y2="506.1" class="bl"/>
<rect x="63.32" y="480.44" width="19.4" height="16.1" fill="#ee854a" class="bl"/>
<line x1="63.32" y1="491" x2="82.72" y2="491" class="bl"/>
<path d="M73.02 380.16L74.72 382.86L73.02 385.56L71.32 382.86Z" class="ou"/>
<path d="M73.02 390.22L74.72 392.92L73.02 395.62L71.32 392.92Z" class="ou"/>
<path d="M73.02 415.37L74.72 418.07L73.02 420.77L71.32 418.07Z" class="ou"/>
<line x1="73.02" y1="527.7" x2="73.02" y2="529.3" class="ax"/>
<text x="73.52" y="536" class="cl">MR1</text>
<line x1="102.7" y1="465.86" x2="102.7" y2="483.46" class="bl"/>
<line x1="102.7" y1="496.54" x2="102.7" y2="506.1" class="bl"/>
<line x1="97.5" y1="465.86" x2="107.9" y2="465.86" class="bl"/>
<line x1="97.5" y1="506.1" x2="107.9" y2="506.1" class="bl"/>
<rect x="93" y="483.46" width="19.4" height="13.08" fill="#6acc64" class="bl"/>
<line x1="93" y1="491.51" x2="112.4" y2="491.51" class="bl"/>
<path d="M102.7 380.16L104.4 382.86L102.7 385.56L101 382.86Z" class="ou"/>
<path d="M102.7 395.25L104.4 397.95L102.7 400.65L101 397.95Z" class="ou"/>
<line x1="102.7" y1="527.7" x2="102.7" y2="529.3" class="ax"/>
<text x="103.2" y="536" class="cl">MR2</text>
<line x1="132.38" y1="463.09" x2="132.38" y2="480.95" class="bl"/>
<line x1="132.38" y1="495.78" x2="132.38" y2="505.84" class="bl"/>
<line x1="127.18" y1="463.09" x2="137.58" y2="463.09" class="bl"/>
<line x1="127.18" y1="505.84" x2="137.58" y2="505.84" class="bl"/>
<rect x="122.68" y="480.95" width="19.4" height="14.84" fill="#d65f5f" class="bl"/>
<line x1="122.68" y1="489.5" x2="142.08" y2="489.5" class="bl"/>
<path d="M132.38 382.68L134.08 385.38L132.38 388.07L130.68 385.38Z" class="ou"/>
<path d="M132.38 394.75L134.08 397.45L132.38 400.15L130.68 397.45Z" class="ou"/>
<path d="M132.38 410.34L134.08 413.04L132.38 415.74L130.68 413.04Z" class="ou"/>
<line x1="132.38" y1="527.7" x2="132.38" y2="529.3" class="ax"/>
<text x="132.88" y="536" class="cl">MR3</text>
<line x1="162.06" y1="468.37" x2="162.06" y2="485.22" class="bl"/>
<line x1="162.06" y1="498.3" x2="162.06" y2="505.84" class="bl"/>
<line x1="156.86" y1="468.37" x2="167.26" y2="468.37" class="bl"/>
<line x1="156.86" y1="505.84" x2="167.26" y2="505.84" class="bl"/>
<rect x="152.36" y="485.22" width="19.4" height="13.08" fill="#956cb4" class="bl"/>
<line x1="152.36" y1="489.5" x2="171.76" y2="489.5" class="bl"/>
<path d="M162.06 389.47L163.76 392.17L162.06 394.87L160.36 392.17Z" class="ou"/>
<path d="M162.06 392.99L163.76 395.69L162.06 398.39L160.36 395.69Z" class="ou"/>
<path d="M162.06 407.57L163.76 410.27L162.06 412.97L160.36 410.27Z" class="ou"/>
<line x1="162.06" y1="527.7" x2="162.06" y2="529.3" class="ax"/>
<text x="162.56" y="536" class="cl">MR4</text>
<line x1="191.74" y1="473.4" x2="191.74" y2="490.5" class="bl"/>
<line x1="191.74" y1="503.33" x2="191.74" y2="513.64" class="bl"/>
<line x1="186.54" y1="473.4" x2="196.94" y2="473.4" class="bl"/>
<line x1="186.54" y1="513.64" x2="196.94" y2="513.64" class="bl"/>
<rect x="182.04" y="490.5" width="19.4" height="12.83" fill="#8c613c" class="bl"/>
<line x1="182.04" y1="496.54" x2="201.44" y2="496.54" class="bl"/>
<path d="M191.74 397.77L193.44 400.47L191.74 403.17L190.04 400.47Z" class="ou"/>
<path d="M191.74 422.41L193.44 425.11L191.74 427.81L190.04 425.11Z" class="ou"/>
<path d="M191.74 465.67L193.44 468.37L191.74 471.07L190.04 468.37Z" class="ou"/>
<line x1="191.74" y1="527.7" x2="191.74" y2="529.3" class="ax"/>
<text x="192.24" y="536" class="cl">MR5</text>
<line x1="221.42" y1="465.35" x2="221.42" y2="482.71" class="bl"/>
<line x1="221.42" y1="496.54" x2="221.42" y2="508.61" class="bl"/>
<line x1="216.22" y1="465.35" x2="226.62" y2="465.35" class="bl"/>
<line x1="216.22" y1="508.61" x2="226.62" y2="508.61" class="bl"/>
<rect x="211.72" y="482.71" width="19.4" height="13.83" fill="#dc7ec0" class="bl"/>
<line x1="211.72" y1="491.26" x2="231.12" y2="491.26" class="bl"/>
<path d="M221.42 379.91L223.12 382.61L221.42 385.31L219.72 382.61Z" class="ou"/>
<path d="M221.42 391.23L223.12 393.93L221.42 396.63L219.72 393.93Z" class="ou"/>
<path d="M221.42 394.75L223.12 397.45L221.42 400.15L219.72 397.45Z" class="ou"/>
<line x1="221.42" y1="527.7" x2="221.42" y2="529.3" class="ax"/>
<text x="221.92" y="536" class="cl">MR6</text>
<line x1="28.5" y1="491.51" x2="236.26" y2="491.51" class="ml"/>
<circle cx="43.34" cy="491.76" r="1.3" fill="#ff0000"/>
<circle cx="73.02" cy="484.47" r="1.3" fill="#ff0000"/>
<circle cx="102.7" cy="484.47" r="1.3" fill="#ff0000"/>
<circle cx="132.38" cy="482.96" r="1.3" fill="#ff0000"/>
<circle cx="162.06" cy="485.47" r="1.3" fill="#ff0000"/>
<circle cx="191.74" cy="490.5" r="1.3" fill="#ff0000"/>
<circle cx="221.42" cy="483.71" r="1.3" fill="#ff0000"/>
<path d="M28.5 372.8V527.7H236.26" class="ax" fill="none"/>
<text x="132.38" y="544.1" class="cl">Seurat</text>
<text x="252.3" y="368.8" class="lt">F.</text>
<text transform="translate(257.5,446.8) rotate(-90) scale(0.975,1.05)" class="yl">Silhouette Coefficient</text>
<line x1="271.5" y1="523.7" x2="274.1" y2="523.7" class="ax"/>
<text x="270.5" y="526.1" class="tl">0.3</text>
<line x1="271.5" y1="498.55" x2="274.1" y2="498.55" class="ax"/>
<text x="270.5" y="500.95" class="tl">0.4</text>
<line x1="271.5" y1="473.4" x2="274.1" y2="473.4" class="ax"/>
<text x="270.5" y="475.8" class="tl">0.5</text>
<line x1="271.5" y1="448.25" x2="274.1" y2="448.25" class="ax"/>
<text x="270.5" y="450.65" class="tl">0.6</text>
<line x1="271.5" y1="423.1" x2="274.1" y2="423.1" class="ax"/>
<text x="270.5" y="425.5" class="tl">0.7</text>
<line x1="271.5" y1="397.95" x2="274.1" y2="397.95" class="ax"/>
<text x="270.5" y="400.35" class="tl">0.8</text>
<line x1="271.5" y1="372.8" x2="274.1" y2="372.8" class="ax"/>
<text x="270.5" y="375.2" class="tl">0.9</text>
<line x1="288.94" y1="473.4" x2="288.94" y2="490.75" class="bl"/>
<line x1="288.94" y1="513.64" x2="288.94" y2="523.7" class="bl"/>
<line x1="283.74" y1="473.4" x2="294.14" y2="473.4" class="bl"/>
<line x1="283.74" y1="523.7" x2="294.14" y2="523.7" class="bl"/>
<rect x="279.24" y="490.75" width="19.4" height="22.89" fill="#4878d0" class="bl"/>
<line x1="279.24" y1="508.86" x2="298.64" y2="508.86" class="bl"/>
<path d="M288.94 395.25L290.64 397.95L288.94 400.65L287.24 397.95Z" class="ou"/>
<path d="M288.94 421.66L290.64 424.36L288.94 427.06L287.24 424.36Z" class="ou"/>
<path d="M288.94 425.43L290.64 428.13L288.94 430.83L287.24 428.13Z" class="ou"/>
<line x1="288.94" y1="527.7" x2="288.94" y2="529.3" class="ax"/>
<text x="288.94" y="536" class="cl">Original</text>
<line x1="318.62" y1="490.5" x2="318.62" y2="500.81" class="bl"/>
<line x1="318.62" y1="511.88" x2="318.62" y2="524.2" class="bl"/>
<line x1="313.42" y1="490.5" x2="323.82" y2="490.5" class="bl"/>
<line x1="313.42" y1="524.2" x2="323.82" y2="524.2" class="bl"/>
<rect x="308.92" y="500.81" width="19.4" height="11.07" fill="#ee854a" class="bl"/>
<line x1="308.92" y1="508.11" x2="328.32" y2="508.11" class="bl"/>
<path d="M318.62 410.34L320.32 413.04L318.62 415.74L316.92 413.04Z" class="ou"/>
<path d="M318.62 420.4L320.32 423.1L318.62 425.8L316.92 423.1Z" class="ou"/>
<path d="M318.62 421.66L320.32 424.36L318.62 427.06L316.92 424.36Z" class="ou"/>
<path d="M318.62 455.61L320.32 458.31L318.62 461.01L316.92 458.31Z" class="ou"/>
<path d="M318.62 470.7L320.32 473.4L318.62 476.1L316.92 473.4Z" class="ou"/>
<path d="M318.62 479.5L320.32 482.2L318.62 484.9L316.92 482.2Z" class="ou"/>
<line x1="318.62" y1="527.7" x2="318.62" y2="529.3" class="ax"/>
<text x="319.12" y="536" class="cl">MR1</text>
<line x1="348.3" y1="490.5" x2="348.3" y2="500.81" class="bl"/>
<line x1="348.3" y1="511.88" x2="348.3" y2="524.2" class="bl"/>
<line x1="343.1" y1="490.5" x2="353.5" y2="490.5" class="bl"/>
<line x1="343.1" y1="524.2" x2="353.5" y2="524.2" class="bl"/>
<rect x="338.6" y="500.81" width="19.4" height="11.07" fill="#6acc64" class="bl"/>
<line x1="338.6" y1="508.11" x2="358" y2="508.11" class="bl"/>
<path d="M348.3 410.34L350 413.04L348.3 415.74L346.6 413.04Z" class="ou"/>
<path d="M348.3 420.4L350 423.1L348.3 425.8L346.6 423.1Z" class="ou"/>
<path d="M348.3 421.66L350 424.36L348.3 427.06L346.6 424.36Z" class="ou"/>
<path d="M348.3 455.61L350 458.31L348.3 461.01L346.6 458.31Z" class="ou"/>
<path d="M348.3 470.7L350 473.4L348.3 476.1L346.6 473.4Z" class="ou"/>
<path d="M348.3 479L350 481.7L348.3 484.4L346.6 481.7Z" class="ou"/>
<line x1="348.3" y1="527.7" x2="348.3" y2="529.3" class="ax"/>
<text x="348.8" y="536" class="cl">MR2</text>
<line x1="377.98" y1="469.63" x2="377.98" y2="494.02" class="bl"/>
<line x1="377.98" y1="511.38" x2="377.98" y2="521.69" class="bl"/>
<line x1="372.78" y1="469.63" x2="383.18" y2="469.63" class="bl"/>
<line x1="372.78" y1="521.69" x2="383.18" y2="521.69" class="bl"/>
<rect x="368.28" y="494.02" width="19.4" height="17.35" fill="#d65f5f" class="bl"/>
<line x1="368.28" y1="507.6" x2="387.68" y2="507.6" class="bl"/>
<path d="M377.98 402.29L379.68 404.99L377.98 407.69L376.28 404.99Z" class="ou"/>
<path d="M377.98 419.65L379.68 422.35L377.98 425.05L376.28 422.35Z" class="ou"/>
<path d="M377.98 430.46L379.68 433.16L377.98 435.86L376.28 433.16Z" class="ou"/>
<line x1="377.98" y1="527.7" x2="377.98" y2="529.3" class="ax"/>
<text x="378.48" y="536" class="cl">MR3</text>
<line x1="407.66" y1="478.18" x2="407.66" y2="497.54" class="bl"/>
<line x1="407.66" y1="515.4" x2="407.66" y2="520.68" class="bl"/>
<line x1="402.46" y1="478.18" x2="412.86" y2="478.18" class="bl"/>
<line x1="402.46" y1="520.68" x2="412.86" y2="520.68" class="bl"/>
<rect x="397.96" y="497.54" width="19.4" height="17.86" fill="#956cb4" class="bl"/>
<line x1="397.96" y1="510.37" x2="417.36" y2="510.37" class="bl"/>
<path d="M407.66 395.25L409.36 397.95L407.66 400.65L405.96 397.95Z" class="ou"/>
<path d="M407.66 415.37L409.36 418.07L407.66 420.77L405.96 418.07Z" class="ou"/>
<path d="M407.66 420.4L409.36 423.1L407.66 425.8L405.96 423.1Z" class="ou"/>
<path d="M407.66 456.87L409.36 459.57L407.66 462.27L405.96 459.57Z" class="ou"/>
<line x1="407.66" y1="527.7" x2="407.66" y2="529.3" class="ax"/>
<text x="408.16" y="536" class="cl">MR4</text>
<line x1="437.34" y1="481.7" x2="437.34" y2="499.81" class="bl"/>
<line x1="437.34" y1="513.14" x2="437.34" y2="523.45" class="bl"/>
<line x1="432.14" y1="481.7" x2="442.54" y2="481.7" class="bl"/>
<line x1="432.14" y1="523.45" x2="442.54" y2="523.45" class="bl"/>
<rect x="427.64" y="499.81" width="19.4" height="13.33" fill="#8c613c" class="bl"/>
<line x1="427.64" y1="509.36" x2="447.04" y2="509.36" class="bl"/>
<path d="M437.34 397.01L439.04 399.71L437.34 402.41L435.64 399.71Z" class="ou"/>
<path d="M437.34 399.02L439.04 401.72L437.34 404.42L435.64 401.72Z" class="ou"/>
<path d="M437.34 423.67L439.04 426.37L437.34 429.07L435.64 426.37Z" class="ou"/>
<path d="M437.34 475.48L439.04 478.18L437.34 480.88L435.64 478.18Z" class="ou"/>
<line x1="437.34" y1="527.7" x2="437.34" y2="529.3" class="ax"/>
<text x="437.84" y="536" class="cl">MR5</text>
<line x1="467.02" y1="481.7" x2="467.02" y2="498.55" class="bl"/>
<line x1="467.02" y1="514.39" x2="467.02" y2="525.21" class="bl"/>
<line x1="461.82" y1="481.7" x2="472.22" y2="481.7" class="bl"/>
<line x1="461.82" y1="525.21" x2="472.22" y2="525.21" class="bl"/>
<rect x="457.32" y="498.55" width="19.4" height="15.84" fill="#dc7ec0" class="bl"/>
<line x1="457.32" y1="509.36" x2="476.72" y2="509.36" class="bl"/>
<path d="M467.02 395.25L468.72 397.95L467.02 400.65L465.32 397.95Z" class="ou"/>
<path d="M467.02 419.65L468.72 422.35L467.02 425.05L465.32 422.35Z" class="ou"/>
<path d="M467.02 430.46L468.72 433.16L467.02 435.86L465.32 433.16Z" class="ou"/>
<path d="M467.02 471.45L468.72 474.15L467.02 476.85L465.32 474.15Z" class="ou"/>
<line x1="467.02" y1="527.7" x2="467.02" y2="529.3" class="ax"/>
<text x="467.52" y="536" class="cl">MR6</text>
<line x1="274.1" y1="499.81" x2="481.86" y2="499.81" class="ml"/>
<circle cx="288.94" cy="499.81" r="1.3" fill="#ff0000"/>
<circle cx="318.62" cy="500.31" r="1.3" fill="#ff0000"/>
<circle cx="348.3" cy="500.31" r="1.3" fill="#ff0000"/>
<circle cx="377.98" cy="499.3" r="1.3" fill="#ff0000"/>
<circle cx="407.66" cy="500.56" r="1.3" fill="#ff0000"/>
<circle cx="437.34" cy="499.81" r="1.3" fill="#ff0000"/>
<circle cx="467.02" cy="501.07" r="1.3" fill="#ff0000"/>
<path d="M274.1 372.8V527.7H481.86" class="ax" fill="none"/>
<text x="377.98" y="544.1" class="cl">Scanpy</text>
</svg>
</body></html>
